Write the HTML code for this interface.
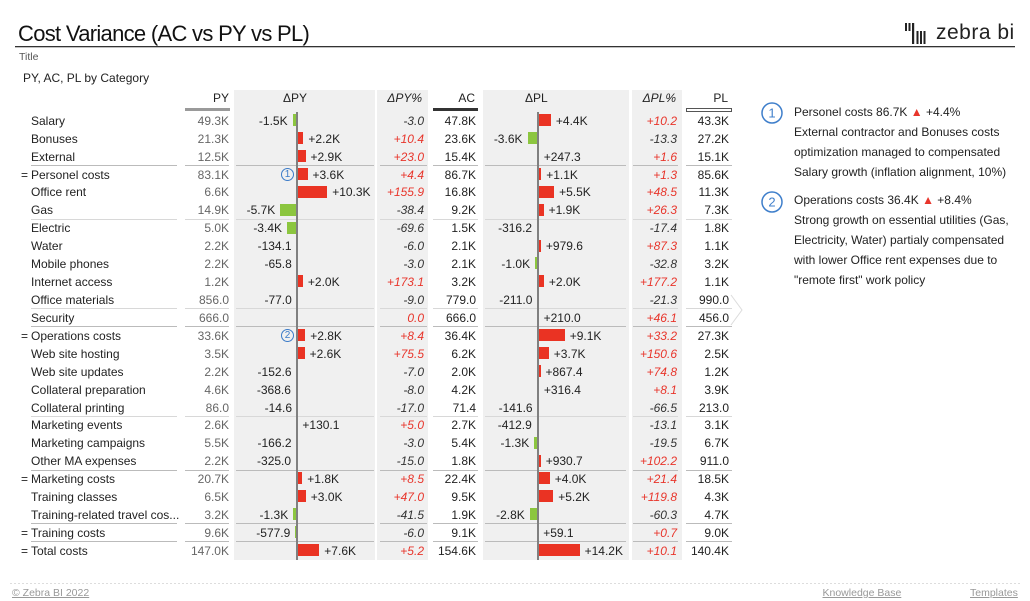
<!DOCTYPE html>
<html><head><meta charset="utf-8">
<style>
*{margin:0;padding:0;box-sizing:border-box}
html,body{width:1030px;height:601px;background:#fff;overflow:hidden}
body{position:relative;font-family:"Liberation Sans",Arial,sans-serif;color:#222}
.abs{position:absolute}
.r{position:absolute;left:0;width:1030px;height:18px;line-height:18px;font-size:12px;white-space:nowrap}
.r span{position:absolute;top:0}
.lb{left:31px}
.eq{left:21px}
.py{right:801px;color:#666}
.p1{right:606px;font-style:italic;color:#333}
.ac{right:554px}
.p2{right:353px;font-style:italic;color:#333}
.pl{right:301px}
.r span.rd{color:#e8352b}
.b{position:absolute;top:2.3px;height:12px;display:block}
.bg{background:#8cc63f}
.br{background:#ea3323}
.ci{position:absolute;top:2.5px;left:281px;width:13px;height:13px;border:1px solid #3b7bc8;border-radius:50%;color:#3b7bc8;font-size:10px;line-height:11px;text-align:center}
.hd{position:absolute;top:88.5px;height:18px;line-height:18px;font-size:12px;color:#222}
.ann{position:absolute;left:794px;font-size:12px;line-height:20px;color:#222;white-space:nowrap}
.ft{position:absolute;top:587px;font-size:10.5px;line-height:12px;color:#999;text-decoration:underline}
</style></head><body>

<svg class="abs" style="left:0;top:0" width="1030" height="601">
  <rect x="234" y="90" width="141" height="470" fill="#f0f0f0"/>
  <rect x="377" y="90" width="51" height="470" fill="#f0f0f0"/>
  <rect x="483" y="90" width="146" height="470" fill="#f0f0f0"/>
  <rect x="632" y="90" width="50" height="470" fill="#f0f0f0"/>
  <rect x="15" y="46" width="1000" height="1.3" fill="#333"/>
  <rect x="185" y="108" width="45" height="3" fill="#9a9a9a"/>
  <rect x="433" y="108" width="45" height="3" fill="#333"/>
  <rect x="686.5" y="108.5" width="45" height="3" fill="#fff" stroke="#555" stroke-width="1"/>
  <g stroke-width="1" fill="none">
    <path stroke="#bbb" d="M31 165.5H177M185 165.5H229M236 165.5H374M380 165.5H427M433 165.5H478M485 165.5H626M633 165.5H678M686 165.5H732"/>
    <path stroke="#d8d8d8" d="M31 219.5H177M185 219.5H229M236 219.5H374M380 219.5H427M433 219.5H478M485 219.5H626M633 219.5H678M686 219.5H732"/>
    <path stroke="#d8d8d8" d="M31 308.5H177M185 308.5H229M236 308.5H374M380 308.5H427M433 308.5H478M485 308.5H626M633 308.5H678M686 308.5H732"/>
    <path stroke="#bbb" d="M31 326.5H177M185 326.5H229M236 326.5H374M380 326.5H427M433 326.5H478M485 326.5H626M633 326.5H678M686 326.5H732"/>
    <path stroke="#d8d8d8" d="M31 416.5H177M185 416.5H229M236 416.5H374M380 416.5H427M433 416.5H478M485 416.5H626M633 416.5H678M686 416.5H732"/>
    <path stroke="#bbb" d="M31 470.5H177M185 470.5H229M236 470.5H374M380 470.5H427M433 470.5H478M485 470.5H626M633 470.5H678M686 470.5H732"/>
    <path stroke="#bbb" d="M31 523.5H177M185 523.5H229M236 523.5H374M380 523.5H427M433 523.5H478M485 523.5H626M633 523.5H678M686 523.5H732"/>
    <path stroke="#bbb" d="M31 541.5H177M185 541.5H229M236 541.5H374M380 541.5H427M433 541.5H478M485 541.5H626M633 541.5H678M686 541.5H732"/>
    <polyline stroke="#dcdcdc" points="731,295 742,310 731,325"/>
    <line x1="10" y1="583.5" x2="1022" y2="583.5" stroke="#ddd" stroke-dasharray="2,2"/>
  </g>
  <g fill="#222">
    <rect x="905" y="23" width="2" height="8"/>
    <rect x="908.5" y="23" width="2" height="8"/>
    <rect x="912" y="23" width="2.2" height="21"/>
    <rect x="916.5" y="31" width="2" height="13"/>
    <rect x="920" y="31" width="2" height="13"/>
    <rect x="923.5" y="31" width="2" height="13"/>
  </g>
  <circle cx="772" cy="113" r="10" fill="none" stroke="#3f7fcb" stroke-width="1.5"/>
  <text x="772" y="117.5" font-family="Liberation Sans, Arial, sans-serif" font-size="13" fill="#3f7fcb" text-anchor="middle">1</text>
  <circle cx="772" cy="202" r="10" fill="none" stroke="#3f7fcb" stroke-width="1.5"/>
  <text x="772" y="206.5" font-family="Liberation Sans, Arial, sans-serif" font-size="13" fill="#3f7fcb" text-anchor="middle">2</text>
</svg>

<div class="abs" style="left:18px;top:23.4px;font-size:22px;line-height:22px;letter-spacing:-0.7px;color:#111;white-space:nowrap">Cost Variance (AC vs PY vs PL)</div>
<div class="abs" style="left:936px;top:22.2px;font-size:21px;line-height:21px;letter-spacing:0.5px;color:#222;white-space:nowrap">zebra bi</div>
<div class="abs" style="left:19px;top:51px;font-size:10.5px;line-height:12px;color:#555">Title</div>
<div class="abs" style="left:23px;top:68.5px;font-size:12px;line-height:18px;color:#222;white-space:nowrap">PY, AC, PL by Category</div>

<div class="hd" style="right:801px">PY</div>
<div class="hd" style="left:283px">ΔPY</div>
<div class="hd" style="right:608px;font-style:italic">ΔPY%</div>
<div class="hd" style="right:555px">AC</div>
<div class="hd" style="left:525px">ΔPL</div>
<div class="hd" style="right:354px;font-style:italic">ΔPL%</div>
<div class="hd" style="right:302px">PL</div>

<div class="r" style="top:111.8px"><span class="lb">Salary</span><span class="py">49.3K</span><i class="b bg" style="left:292.6px;width:4.4px"></i><span style="right:742.4px">-1.5K</span><span class="p1">-3.0</span><span class="ac">47.8K</span><i class="b br" style="left:538px;width:12.9px"></i><span style="left:555.9px">+4.4K</span><span class="p2 rd">+10.2</span><span class="pl">43.3K</span></div>

<div class="r" style="top:129.72px"><span class="lb">Bonuses</span><span class="py">21.3K</span><i class="b br" style="left:297px;width:6.4px"></i><span style="left:308.4px">+2.2K</span><span class="p1 rd">+10.4</span><span class="ac">23.6K</span><i class="b bg" style="left:527.5px;width:10.5px"></i><span style="right:507.5px">-3.6K</span><span class="p2">-13.3</span><span class="pl">27.2K</span></div>

<div class="r" style="top:147.64px"><span class="lb">External</span><span class="py">12.5K</span><i class="b br" style="left:297px;width:8.5px"></i><span style="left:310.5px">+2.9K</span><span class="p1 rd">+23.0</span><span class="ac">15.4K</span><i class="b br" style="left:538px;width:0.7px"></i><span style="left:543.7px">+247.3</span><span class="p2 rd">+1.6</span><span class="pl">15.1K</span></div>

<div class="r" style="top:165.56px"><span class="eq">=</span><span class="lb">Personel costs</span><span class="py">83.1K</span><div class="ci">1</div><i class="b br" style="left:297px;width:10.5px"></i><span style="left:312.5px">+3.6K</span><span class="p1 rd">+4.4</span><span class="ac">86.7K</span><i class="b br" style="left:538px;width:3.2px"></i><span style="left:546.2px">+1.1K</span><span class="p2 rd">+1.3</span><span class="pl">85.6K</span></div>

<div class="r" style="top:183.48px"><span class="lb">Office rent</span><span class="py">6.6K</span><i class="b br" style="left:297px;width:30.2px"></i><span style="left:332.2px">+10.3K</span><span class="p1 rd">+155.9</span><span class="ac">16.8K</span><i class="b br" style="left:538px;width:16.1px"></i><span style="left:559.1px">+5.5K</span><span class="p2 rd">+48.5</span><span class="pl">11.3K</span></div>

<div class="r" style="top:201.4px"><span class="lb">Gas</span><span class="py">14.9K</span><i class="b bg" style="left:280.3px;width:16.7px"></i><span style="right:754.7px">-5.7K</span><span class="p1">-38.4</span><span class="ac">9.2K</span><i class="b br" style="left:538px;width:5.6px"></i><span style="left:548.6px">+1.9K</span><span class="p2 rd">+26.3</span><span class="pl">7.3K</span></div>

<div class="r" style="top:219.32px"><span class="lb">Electric</span><span class="py">5.0K</span><i class="b bg" style="left:287px;width:10px"></i><span style="right:748px">-3.4K</span><span class="p1">-69.6</span><span class="ac">1.5K</span><i class="b bg" style="left:537.1px;width:0.9px"></i><span style="right:497.9px">-316.2</span><span class="p2">-17.4</span><span class="pl">1.8K</span></div>

<div class="r" style="top:237.24px"><span class="lb">Water</span><span class="py">2.2K</span><span style="right:738.4px">-134.1</span><span class="p1">-6.0</span><span class="ac">2.1K</span><i class="b br" style="left:538px;width:2.9px"></i><span style="left:545.9px">+979.6</span><span class="p2 rd">+87.3</span><span class="pl">1.1K</span></div>

<div class="r" style="top:255.16px"><span class="lb">Mobile phones</span><span class="py">2.2K</span><span style="right:738.2px">-65.8</span><span class="p1">-3.0</span><span class="ac">2.1K</span><i class="b bg" style="left:535.1px;width:2.9px"></i><span style="right:499.9px">-1.0K</span><span class="p2">-32.8</span><span class="pl">3.2K</span></div>

<div class="r" style="top:273.08px"><span class="lb">Internet access</span><span class="py">1.2K</span><i class="b br" style="left:297px;width:5.9px"></i><span style="left:307.9px">+2.0K</span><span class="p1 rd">+173.1</span><span class="ac">3.2K</span><i class="b br" style="left:538px;width:5.9px"></i><span style="left:548.9px">+2.0K</span><span class="p2 rd">+177.2</span><span class="pl">1.1K</span></div>

<div class="r" style="top:291px"><span class="lb">Office materials</span><span class="py">856.0</span><span style="right:738.2px">-77.0</span><span class="p1">-9.0</span><span class="ac">779.0</span><i class="b bg" style="left:537.4px;width:0.6px"></i><span style="right:497.6px">-211.0</span><span class="p2">-21.3</span><span class="pl">990.0</span></div>

<div class="r" style="top:308.92px"><span class="lb">Security</span><span class="py">666.0</span><span class="p1 rd">0.0</span><span class="ac">666.0</span><i class="b br" style="left:538px;width:0.6px"></i><span style="left:543.6px">+210.0</span><span class="p2 rd">+46.1</span><span class="pl">456.0</span></div>

<div class="r" style="top:326.84px"><span class="eq">=</span><span class="lb">Operations costs</span><span class="py">33.6K</span><div class="ci">2</div><i class="b br" style="left:297px;width:8.2px"></i><span style="left:310.2px">+2.8K</span><span class="p1 rd">+8.4</span><span class="ac">36.4K</span><i class="b br" style="left:538px;width:26.7px"></i><span style="left:569.7px">+9.1K</span><span class="p2 rd">+33.2</span><span class="pl">27.3K</span></div>

<div class="r" style="top:344.76px"><span class="lb">Web site hosting</span><span class="py">3.5K</span><i class="b br" style="left:297px;width:7.6px"></i><span style="left:309.6px">+2.6K</span><span class="p1 rd">+75.5</span><span class="ac">6.2K</span><i class="b br" style="left:538px;width:10.8px"></i><span style="left:553.8px">+3.7K</span><span class="p2 rd">+150.6</span><span class="pl">2.5K</span></div>

<div class="r" style="top:362.68px"><span class="lb">Web site updates</span><span class="py">2.2K</span><span style="right:738.45px">-152.6</span><span class="p1">-7.0</span><span class="ac">2.0K</span><i class="b br" style="left:538px;width:2.5px"></i><span style="left:545.5px">+867.4</span><span class="p2 rd">+74.8</span><span class="pl">1.2K</span></div>

<div class="r" style="top:380.6px"><span class="lb">Collateral preparation</span><span class="py">4.6K</span><i class="b bg" style="left:295.9px;width:1.1px"></i><span style="right:739.1px">-368.6</span><span class="p1">-8.0</span><span class="ac">4.2K</span><i class="b br" style="left:538px;width:0.9px"></i><span style="left:543.9px">+316.4</span><span class="p2 rd">+8.1</span><span class="pl">3.9K</span></div>

<div class="r" style="top:398.52px"><span class="lb">Collateral printing</span><span class="py">86.0</span><span style="right:738px">-14.6</span><span class="p1">-17.0</span><span class="ac">71.4</span><i class="b bg" style="left:537.6px;width:0.4px"></i><span style="right:497.4px">-141.6</span><span class="p2">-66.5</span><span class="pl">213.0</span></div>

<div class="r" style="top:416.44px"><span class="lb">Marketing events</span><span class="py">2.6K</span><span style="left:302.4px">+130.1</span><span class="p1 rd">+5.0</span><span class="ac">2.7K</span><i class="b bg" style="left:536.8px;width:1.2px"></i><span style="right:498.2px">-412.9</span><span class="p2">-13.1</span><span class="pl">3.1K</span></div>

<div class="r" style="top:434.36px"><span class="lb">Marketing campaigns</span><span class="py">5.5K</span><span style="right:738.5px">-166.2</span><span class="p1">-3.0</span><span class="ac">5.4K</span><i class="b bg" style="left:534.2px;width:3.8px"></i><span style="right:500.8px">-1.3K</span><span class="p2">-19.5</span><span class="pl">6.7K</span></div>

<div class="r" style="top:452.28px"><span class="lb">Other MA expenses</span><span class="py">2.2K</span><i class="b bg" style="left:296.05px;width:0.95px"></i><span style="right:738.95px">-325.0</span><span class="p1">-15.0</span><span class="ac">1.8K</span><i class="b br" style="left:538px;width:2.7px"></i><span style="left:545.7px">+930.7</span><span class="p2 rd">+102.2</span><span class="pl">911.0</span></div>

<div class="r" style="top:470.2px"><span class="eq">=</span><span class="lb">Marketing costs</span><span class="py">20.7K</span><i class="b br" style="left:297px;width:5.3px"></i><span style="left:307.3px">+1.8K</span><span class="p1 rd">+8.5</span><span class="ac">22.4K</span><i class="b br" style="left:538px;width:11.7px"></i><span style="left:554.7px">+4.0K</span><span class="p2 rd">+21.4</span><span class="pl">18.5K</span></div>

<div class="r" style="top:488.12px"><span class="lb">Training classes</span><span class="py">6.5K</span><i class="b br" style="left:297px;width:8.8px"></i><span style="left:310.8px">+3.0K</span><span class="p1 rd">+47.0</span><span class="ac">9.5K</span><i class="b br" style="left:538px;width:15.2px"></i><span style="left:558.2px">+5.2K</span><span class="p2 rd">+119.8</span><span class="pl">4.3K</span></div>

<div class="r" style="top:506.04px"><span class="lb">Training-related travel cos...</span><span class="py">3.2K</span><i class="b bg" style="left:293.2px;width:3.8px"></i><span style="right:741.8px">-1.3K</span><span class="p1">-41.5</span><span class="ac">1.9K</span><i class="b bg" style="left:529.8px;width:8.2px"></i><span style="right:505.2px">-2.8K</span><span class="p2">-60.3</span><span class="pl">4.7K</span></div>

<div class="r" style="top:523.96px"><span class="eq">=</span><span class="lb">Training costs</span><span class="py">9.6K</span><i class="b bg" style="left:295.3px;width:1.7px"></i><span style="right:739.7px">-577.9</span><span class="p1">-6.0</span><span class="ac">9.1K</span><span style="left:543.2px">+59.1</span><span class="p2 rd">+0.7</span><span class="pl">9.0K</span></div>

<div class="r" style="top:541.88px"><span class="eq">=</span><span class="lb">Total costs</span><span class="py">147.0K</span><i class="b br" style="left:297px;width:22.3px"></i><span style="left:324.3px">+7.6K</span><span class="p1 rd">+5.2</span><span class="ac">154.6K</span><i class="b br" style="left:538px;width:41.6px"></i><span style="left:584.6px">+14.2K</span><span class="p2 rd">+10.1</span><span class="pl">140.4K</span></div>

<div class="abs" style="left:296px;top:112px;width:2px;height:448px;background:#808080"></div>
<div class="abs" style="left:537px;top:112px;width:2px;height:448px;background:#808080"></div>

<div class="ann" style="top:101.5px">Personel costs 86.7K <span style="color:#e8352b">▲</span> +4.4%<br>External contractor and Bonuses costs<br>optimization managed to compensated<br>Salary growth (inflation alignment, 10%)</div>
<div class="ann" style="top:189.8px">Operations costs 36.4K <span style="color:#e8352b">▲</span> +8.4%<br>Strong growth on essential utilities (Gas,<br>Electricity, Water) partialy compensated<br>with lower Office rent expenses due to<br>"remote first" work policy</div>

<div class="ft" style="left:12px">© Zebra BI 2022</div>
<div class="ft" style="left:822.5px">Knowledge Base</div>
<div class="ft" style="left:970px">Templates</div>

</body></html>
